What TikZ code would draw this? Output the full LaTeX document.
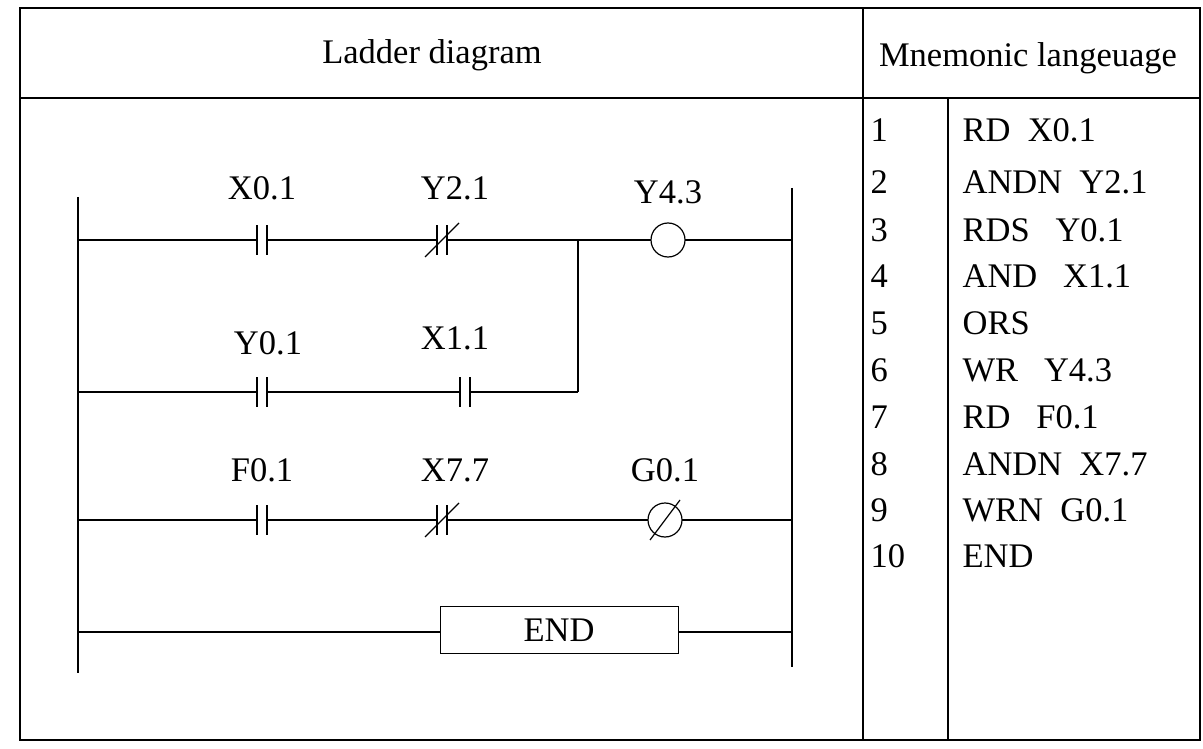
\documentclass[tikz,border=0pt]{standalone}
\usepackage{fontspec}
\setmainfont{Liberation Serif}
\begin{document}
\begin{tikzpicture}[x=1pt,y=-1pt,line width=1.2pt,
 lbl/.style={font=\fontsize{34.5}{36}\selectfont,inner sep=0pt},
 mn/.style={lbl,anchor=west}]
\useasboundingbox (0,0) rectangle (1203,749);
\draw (20,8) rectangle (1200,740);
\draw (20,98) -- (1200,98);
\draw (863,8) -- (863,740);
\draw[line width=2pt] (948,98) -- (948,740);
\node[lbl] (h1) at (432,55) {Ladder diagram};
\node[lbl] (h2) at (1028,58) {Mnemonic langeuage};
% rails
\draw[line width=2pt] (78,197) -- (78,673);
\draw[line width=2pt] (792,188) -- (792,667);
% contacts
\newcommand\NOc[2]{\draw (#1-5,#2-15) -- (#1-5,#2+15); \draw (#1+5,#2-15) -- (#1+5,#2+15);}
\newcommand\NCc[2]{\NOc{#1}{#2}\draw (#1-17,#2+17) -- (#1+17,#2-17);}
% row1
\draw (78,240) -- (257,240) (267,240) -- (437,240) (447,240) -- (651,240) (685,240) -- (792,240);
\NOc{262}{240}\NCc{442}{240}
\draw (668,240) circle (17);
\draw (578,240) -- (578,392);
% row2
\draw (78,392) -- (257,392) (267,392) -- (460,392) (470,392) -- (578,392);
\NOc{262}{392}\NOc{465}{392}
% row3
\draw (78,520) -- (257,520) (267,520) -- (437,520) (447,520) -- (648,520) (682,520) -- (792,520);
\NOc{262}{520}\NCc{442}{520}
\draw (665,520) circle (17);
\draw (650,540) -- (680,500);
% row4
\draw (78,632) -- (440,632) (678,632) -- (792,632);
\node[lbl,draw,line width=1pt,minimum width=238pt,minimum height=47pt] (e) at (559,630) {END};
% labels
\node[lbl] at (262,188) {X0.1};
\node[lbl] at (455,188) {Y2.1};
\node[lbl] at (668,192) {Y4.3};
\node[lbl] at (268,343) {Y0.1};
\node[lbl] at (455,338) {X1.1};
\node[lbl] at (262,470) {F0.1};
\node[lbl] at (455,470) {X7.7};
\node[lbl] at (665,470) {G0.1};
% mnemonic
\foreach \n/\y/\t in {1/130/{RD\ \ X0.1},2/182/{ANDN\ \ Y2.1},3/230/{RDS\ \ \ Y0.1},4/276/{AND\ \ \ X1.1},5/323/{ORS},6/370/{WR\ \ \ Y4.3},7/417/{RD\ \ \ F0.1},8/464/{ANDN\ \ X7.7},9/510/{WRN\ \ G0.1},10/556/{END}}{
 \node[mn] at (870,\y) {\n};
 \node[mn] at (962,\y) {\t};
}
\end{tikzpicture}
\end{document}
